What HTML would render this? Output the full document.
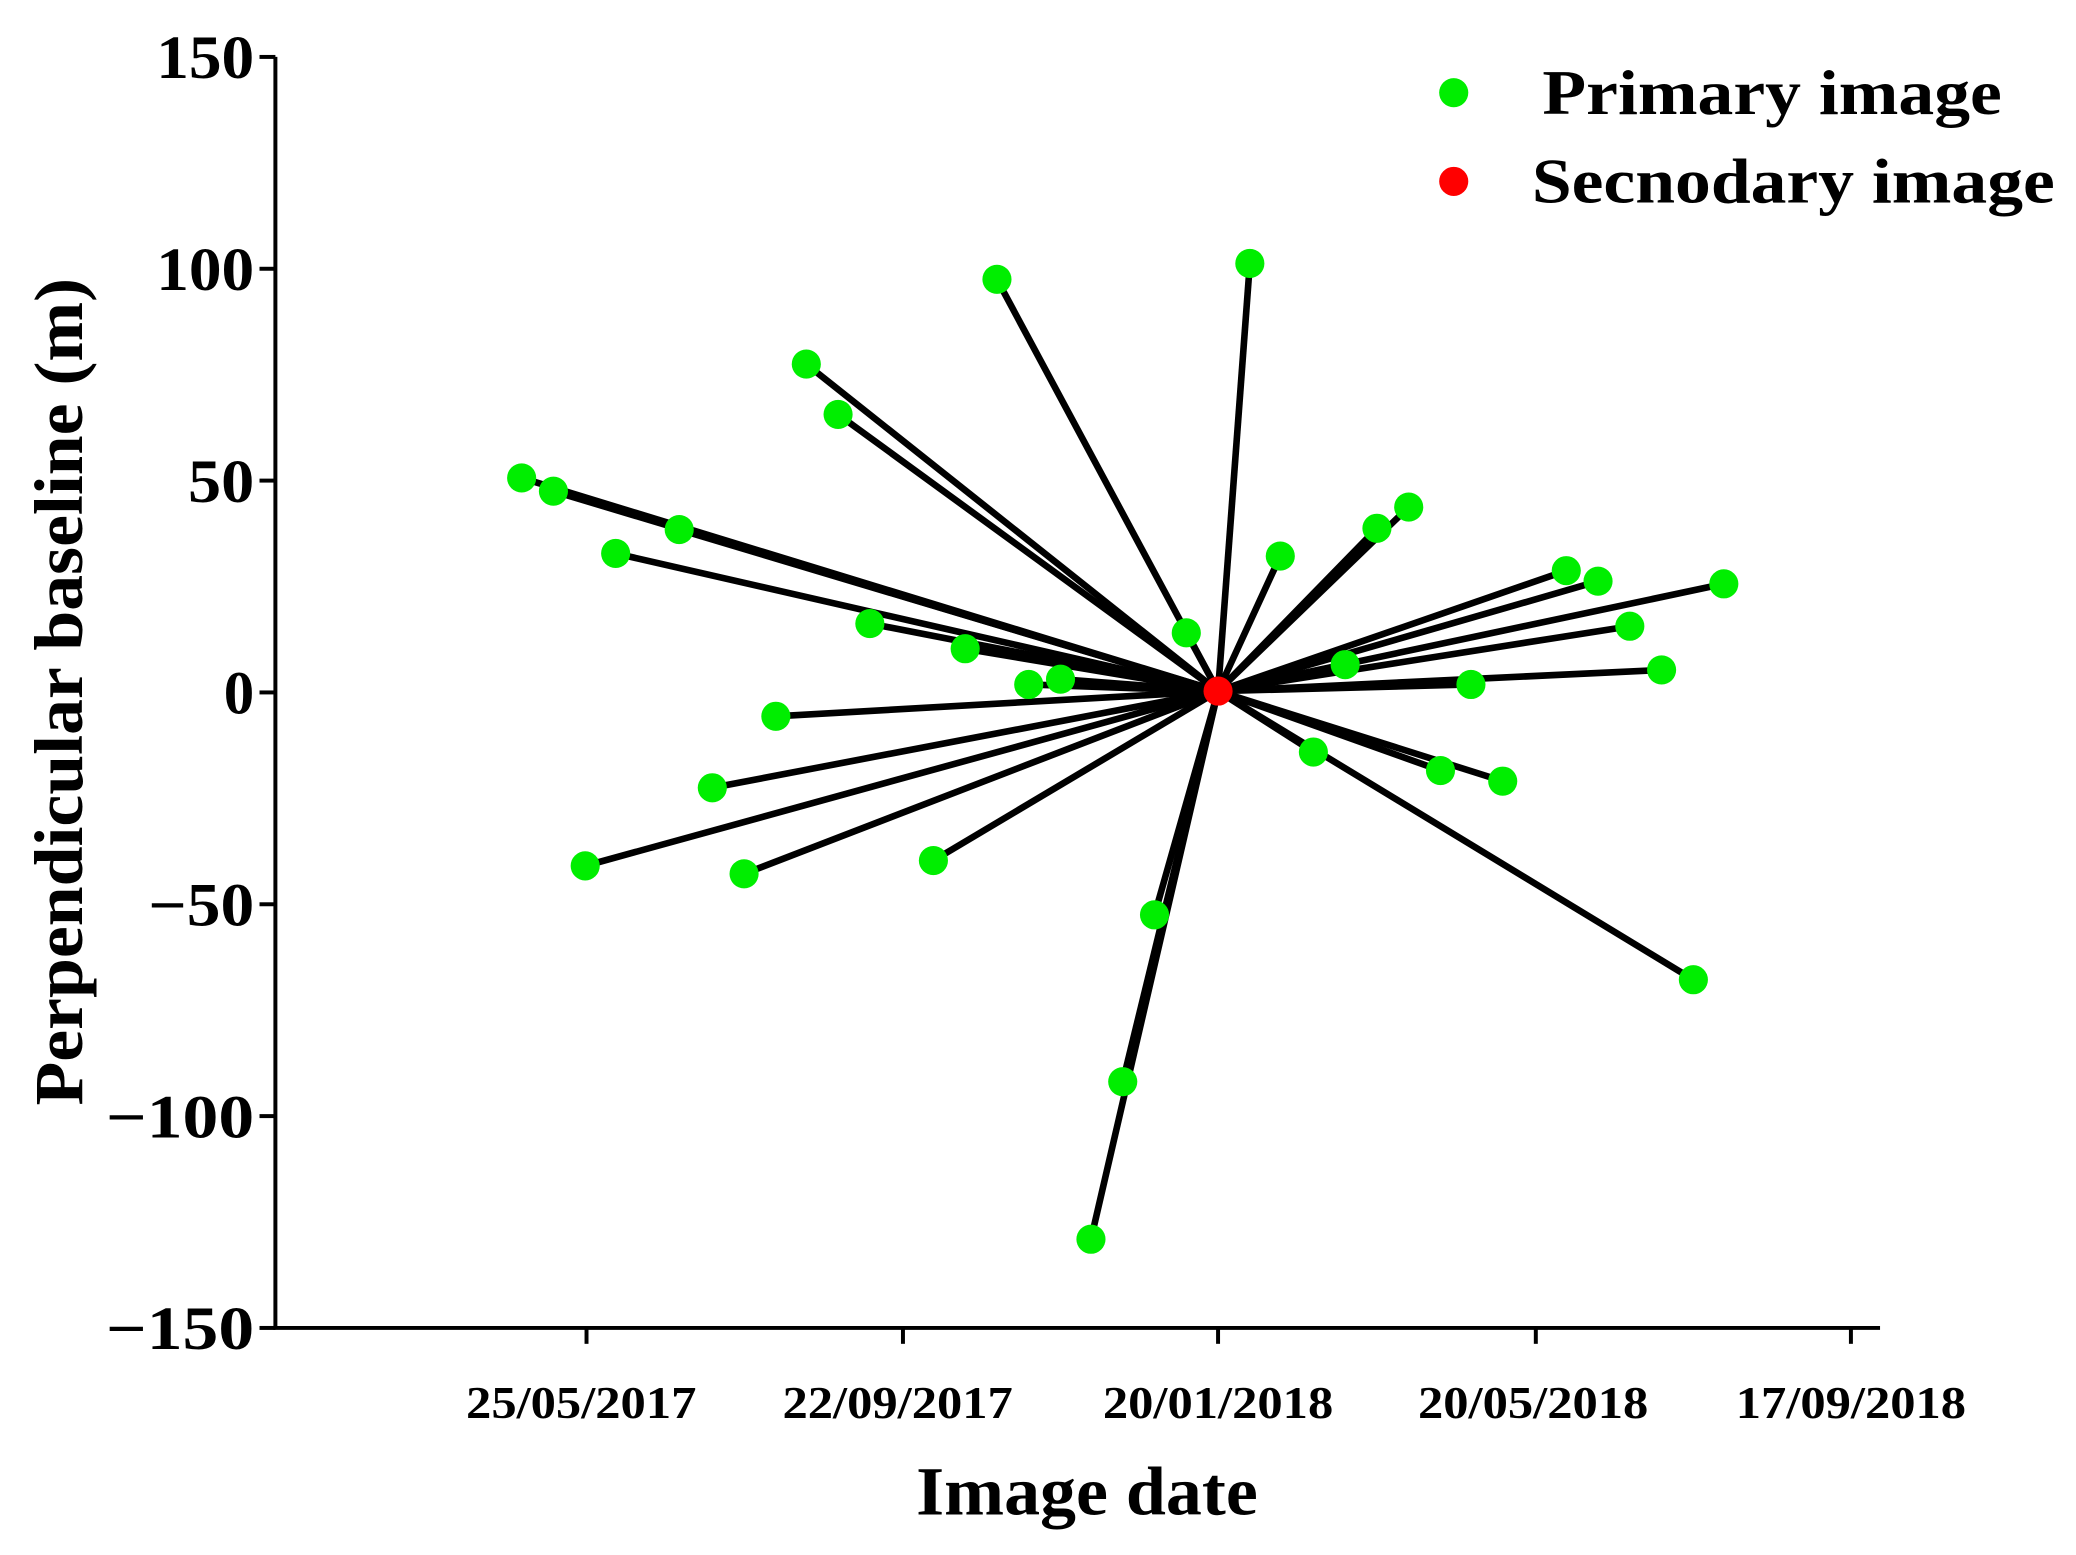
<!DOCTYPE html>
<html><head><style>html,body{margin:0;padding:0;background:#fff}svg{display:block}</style></head><body>
<svg width="2076" height="1555" viewBox="0 0 1568 1174.5" xmlns="http://www.w3.org/2000/svg" font-family="Liberation Serif, serif" font-weight="bold">
<g stroke="#000" stroke-width="5">
<line x1="920" y1="522" x2="394" y2="361"/><line x1="920" y1="522" x2="418" y2="371"/><line x1="920" y1="522" x2="465" y2="418"/><line x1="920" y1="522" x2="513" y2="400"/><line x1="920" y1="522" x2="609" y2="275"/><line x1="920" y1="522" x2="633" y2="313"/><line x1="920" y1="522" x2="657" y2="471"/><line x1="920" y1="522" x2="729" y2="490"/><line x1="920" y1="522" x2="753" y2="211"/><line x1="920" y1="522" x2="777" y2="517"/><line x1="920" y1="522" x2="801" y2="513"/><line x1="920" y1="522" x2="896" y2="478"/><line x1="920" y1="522" x2="944" y2="199"/><line x1="920" y1="522" x2="967" y2="420"/><line x1="920" y1="522" x2="1016" y2="502"/><line x1="920" y1="522" x2="1040" y2="399"/><line x1="920" y1="522" x2="1064" y2="383"/><line x1="920" y1="522" x2="1111" y2="517"/><line x1="920" y1="522" x2="1183" y2="431"/><line x1="920" y1="522" x2="1207" y2="439"/><line x1="920" y1="522" x2="1231" y2="473"/><line x1="920" y1="522" x2="1255" y2="506"/><line x1="920" y1="522" x2="1302" y2="441"/><line x1="920" y1="522" x2="586" y2="541"/><line x1="920" y1="522" x2="538" y2="595"/><line x1="920" y1="522" x2="442" y2="654"/><line x1="920" y1="522" x2="562" y2="660"/><line x1="920" y1="522" x2="705" y2="650"/><line x1="920" y1="522" x2="872" y2="691"/><line x1="920" y1="522" x2="848" y2="817"/><line x1="920" y1="522" x2="824" y2="936"/><line x1="920" y1="522" x2="992" y2="568"/><line x1="920" y1="522" x2="1088" y2="582"/><line x1="920" y1="522" x2="1135" y2="590"/><line x1="920" y1="522" x2="1279" y2="740"/>
</g>
<g fill="#00ee00">
<circle cx="394" cy="361" r="11"/><circle cx="418" cy="371" r="11"/><circle cx="465" cy="418" r="11"/><circle cx="513" cy="400" r="11"/><circle cx="609" cy="275" r="11"/><circle cx="633" cy="313" r="11"/><circle cx="657" cy="471" r="11"/><circle cx="729" cy="490" r="11"/><circle cx="753" cy="211" r="11"/><circle cx="777" cy="517" r="11"/><circle cx="801" cy="513" r="11"/><circle cx="896" cy="478" r="11"/><circle cx="944" cy="199" r="11"/><circle cx="967" cy="420" r="11"/><circle cx="1016" cy="502" r="11"/><circle cx="1040" cy="399" r="11"/><circle cx="1064" cy="383" r="11"/><circle cx="1111" cy="517" r="11"/><circle cx="1183" cy="431" r="11"/><circle cx="1207" cy="439" r="11"/><circle cx="1231" cy="473" r="11"/><circle cx="1255" cy="506" r="11"/><circle cx="1302" cy="441" r="11"/><circle cx="586" cy="541" r="11"/><circle cx="538" cy="595" r="11"/><circle cx="442" cy="654" r="11"/><circle cx="562" cy="660" r="11"/><circle cx="705" cy="650" r="11"/><circle cx="872" cy="691" r="11"/><circle cx="848" cy="817" r="11"/><circle cx="824" cy="936" r="11"/><circle cx="992" cy="568" r="11"/><circle cx="1088" cy="582" r="11"/><circle cx="1135" cy="590" r="11"/><circle cx="1279" cy="740" r="11"/>
<circle cx="1098" cy="70" r="11"/>
</g>
<circle cx="920" cy="522" r="11" fill="#ff0000"/>
<circle cx="1098" cy="137" r="11" fill="#ff0000"/>
<g stroke="#000" stroke-width="3" fill="none">
<polyline points="208,43 208,1003 1420,1003"/>
<line x1="196" y1="43" x2="208" y2="43"/><line x1="196" y1="203" x2="208" y2="203"/><line x1="196" y1="363" x2="208" y2="363"/><line x1="196" y1="523" x2="208" y2="523"/><line x1="196" y1="683" x2="208" y2="683"/><line x1="196" y1="843" x2="208" y2="843"/><line x1="196" y1="1003" x2="208" y2="1003"/>
<line x1="443" y1="1003" x2="443" y2="1015"/><line x1="682" y1="1003" x2="682" y2="1015"/><line x1="920" y1="1003" x2="920" y2="1015"/><line x1="1160" y1="1003" x2="1160" y2="1015"/><line x1="1398" y1="1003" x2="1398" y2="1015"/>
</g>
<g font-size="46" text-anchor="end" lengthAdjust="spacingAndGlyphs">
<text x="192" y="59" textLength="74" lengthAdjust="spacingAndGlyphs">150</text><text x="192" y="219" textLength="74" lengthAdjust="spacingAndGlyphs">100</text><text x="192" y="379" textLength="50" lengthAdjust="spacingAndGlyphs">50</text><text x="192" y="539">0</text><text x="192" y="699" textLength="80" lengthAdjust="spacingAndGlyphs">−50</text><text x="192" y="859" textLength="112" lengthAdjust="spacingAndGlyphs">−100</text><text x="192" y="1019" textLength="112" lengthAdjust="spacingAndGlyphs">−150</text>
</g>
<g font-size="34" text-anchor="middle">
<text x="439" y="1071" textLength="174" lengthAdjust="spacingAndGlyphs">25/05/2017</text><text x="678" y="1071" textLength="174" lengthAdjust="spacingAndGlyphs">22/09/2017</text><text x="920" y="1071" textLength="174" lengthAdjust="spacingAndGlyphs">20/01/2018</text><text x="1158" y="1071" textLength="174" lengthAdjust="spacingAndGlyphs">20/05/2018</text><text x="1398" y="1071" textLength="174" lengthAdjust="spacingAndGlyphs">17/09/2018</text>
</g>
<text x="692" y="1144" font-size="52" textLength="258" lengthAdjust="spacingAndGlyphs">Image date</text>
<text transform="translate(62,835) rotate(-90)" font-size="52" textLength="625" lengthAdjust="spacingAndGlyphs">Perpendicular baseline (m)</text>
<text x="1165" y="86" font-size="48" textLength="347" lengthAdjust="spacingAndGlyphs">Primary image</text>
<text x="1157" y="153" font-size="48" textLength="395" lengthAdjust="spacingAndGlyphs">Secnodary image</text>
</svg>
</body></html>
